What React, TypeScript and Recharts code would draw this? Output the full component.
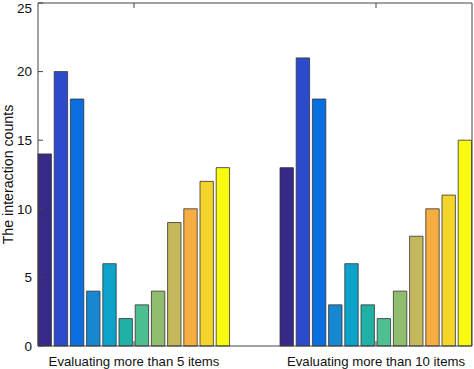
import { BarChart, Bar, XAxis, YAxis } from "recharts";

const categories = ["Evaluating more than 5 items", "Evaluating more than 10 items"];
const moreThan5 = [14, 20, 18, 4, 6, 2, 3, 4, 9, 10, 12, 13];
const moreThan10 = [13, 21, 18, 3, 6, 3, 2, 4, 8, 10, 11, 15];
const yTicks = [0, 5, 10, 15, 20, 25];

// parula-ish colours, one per bar in a group
const colors = [
  "#352a87",
  "#2b4bcc",
  "#0b6ee0",
  "#1687d0",
  "#0ca3cb",
  "#20b0a5",
  "#4dbf90",
  "#8fbd6d",
  "#c5b85c",
  "#f6ae42",
  "#f5d52b",
  "#f8fa0f",
];

const groups = [moreThan5, moreThan10];
const chartData = categories.map((name, gi) => {
  const row: Record<string, string | number> = { name };
  groups[gi].forEach((v, i) => {
    row[`s${i}`] = v;
  });
  return row;
});

const font = "'Liberation Sans', Arial, sans-serif";
const axisColor = "#444";

export default function App() {
  return (
    <div style={{ position: "absolute", left: 0, top: 0, width: 474, height: 369, background: "#fff" }}>
      <BarChart
        width={474}
        height={369}
        data={chartData}
        margin={{ top: 2, right: 1, left: 0, bottom: 0 }}
        barSize={13.4}
        barGap={2.8}
        style={{ fontFamily: font }}
      >
        <XAxis
          dataKey="name"
          height={23}
          padding={{ left: -25, right: -25 }}
          tickSize={-5}
          tickMargin={16}
          stroke={axisColor}
          tick={{ fill: "#111", fontSize: 13.2 }}
          interval={0}
        />
        <XAxis
          xAxisId="top"
          orientation="top"
          dataKey="name"
          height={1}
          padding={{ left: -25, right: -25 }}
          tickSize={-5}
          stroke={axisColor}
          tickFormatter={() => ""}
          interval={0}
        />
        <YAxis
          width={38}
          domain={[0, 25]}
          ticks={yTicks}
          tickSize={-5}
          tickMargin={11}
          stroke={axisColor}
          tick={{ fill: "#111", fontSize: 13.5 }}
          label={{
            value: "The interaction counts",
            angle: -90,
            position: "insideLeft",
            offset: 8,
            style: { textAnchor: "middle", fill: "#111", fontSize: 14.2 },
          }}
        />
        <YAxis
          yAxisId="r"
          orientation="right"
          width={1}
          domain={[0, 25]}
          ticks={yTicks}
          tickSize={-5}
          stroke={axisColor}
          tickFormatter={() => ""}
        />
        {colors.map((c, i) => (
          <Bar
            key={i}
            dataKey={`s${i}`}
            fill={c}
            stroke="#333"
            strokeWidth={0.8}
            isAnimationActive={false}
          />
        ))}
      </BarChart>
    </div>
  );
}
